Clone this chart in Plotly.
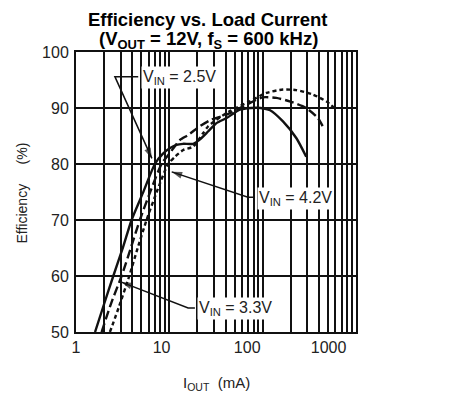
import numpy as np
import plotly.graph_objects as go

# ---- data (load current in mA, efficiency in %) ----
i_vin25 = [1.6, 2.0, 2.51, 3.2, 3.94, 5.2, 7.0, 8.5, 10.1, 11.9, 14, 18, 21, 26, 32, 41, 57, 75, 95, 120, 165, 230, 293]
eff_vin25 = [50, 55, 60, 65.2, 70, 74.8, 80, 81.8, 82.8, 83.4, 83.6, 83.6, 84.3, 85.8, 87.3, 88.2, 89.7, 90.0, 90.0, 89.6, 87.6, 84.6, 81.3]

i_vin33 = [1.88, 2.4, 3.08, 3.9, 4.83, 6.3, 8.25, 10.5, 13, 16, 21, 28, 41, 62, 100, 140, 194, 293, 391, 460]
eff_vin33 = [50, 55.3, 60, 65.2, 70, 75.2, 80, 82.3, 84.3, 85.2, 86.7, 87.9, 88.8, 90.3, 91.9, 91.8, 91.2, 90.0, 88.2, 86.1]

i_vin42 = [2.31, 2.9, 3.72, 4.6, 5.7, 7.4, 9.7, 11.5, 14.1, 18, 23, 26, 32, 45, 73, 110, 165, 229, 345, 479, 589]
eff_vin42 = [50, 54.6, 60, 65.1, 70, 75.2, 80, 81.3, 82.5, 83.1, 85.5, 86.7, 87.9, 89.5, 91.2, 92.7, 93.3, 93.2, 92.4, 91.2, 90.0]

x_tick_text = ["1", "10", "100", "1000"]
y_tick_vals = [50, 60, 70, 80, 90, 100]
y_tick_text = ["50", "60", "70", "80", "90", "100"]
series_labels = ["2.5V", "3.3V", "4.2V"]

# where the printed x labels sit along the drawn grid of the original chart
x_label_pos = [1, 8.25, 68.3, 508]
# drawn grid lines (1-2-...-9 per decade)
grid_x = [m * 10 ** d for d in range(3) for m in range(1, 10)] + [1000]

FONT = "Liberation Sans"
INK = "#111111"
PAGE_OFF = 8  # the page body adds an 8 px margin around the figure

fig = go.Figure()

curve_styles = [
    (i_vin25, eff_vin25, "solid"),
    (i_vin33, eff_vin33, "9px,4px"),
    (i_vin42, eff_vin42, "4px,3px"),
]
for xs, ys, dash in curve_styles:
    fig.add_trace(go.Scatter(
        x=xs, y=ys, mode="lines",
        line=dict(color=INK, width=2.4, dash=dash, shape="spline", smoothing=0.6),
        hoverinfo="skip", showlegend=False,
    ))

# leader lines: (tip on curve, elbow, end of horizontal stub, text anchor x, text y)
leaders = [
    ((6.5, 81.0), (2.61, 95.6), 4.64, 4.97, 95.4, series_labels[0]),
    ((3.07, 58.9), (15.9, 54.3), 18.8, 19.8, 54.2, series_labels[1]),
    ((10.6, 78.6), (69.6, 74.05), 82.6, 87.0, 73.9, series_labels[2]),
]
annotations = []
for tip, elbow, stub_x, text_x, text_y, lab in leaders:
    fig.add_trace(go.Scatter(
        x=[stub_x, elbow[0], tip[0]], y=[elbow[1], elbow[1], tip[1]],
        mode="lines+markers",
        line=dict(color=INK, width=1.5),
        marker=dict(symbol="arrow", size=[0, 0, 11], color=INK, angleref="previous",
                    line=dict(width=0)),
        hoverinfo="skip", showlegend=False,
    ))
    annotations.append(dict(
        x=np.log10(text_x), y=text_y, xref="x", yref="y",
        text="V<sub>IN</sub> = " + lab, showarrow=False,
        xanchor="left", yanchor="middle", bgcolor="white",
        font=dict(family=FONT, size=16, color="#222"),
    ))

H, T, B, L, R = 398, 52 - PAGE_OFF, 66 + PAGE_OFF, 76 - PAGE_OFF, 118 + PAGE_OFF
ph = H - T - B


def py(pix):
    """page pixel row (as seen in the reference) -> paper y"""
    return 1 + (T - (pix - PAGE_OFF)) / ph


def px(pix):
    return ((pix - PAGE_OFF) - L) / 280.0


# titles
annotations.append(dict(
    x=px(208), y=py(19.5), xref="paper", yref="paper", text="<b>Efficiency vs. Load Current</b>",
    showarrow=False, xanchor="center", yanchor="middle",
    font=dict(family=FONT, size=18.5, color="#000"),
))
annotations.append(dict(
    x=px(208), y=py(40), xref="paper", yref="paper",
    text="<b>(V<sub>OUT</sub> = 12V, f<sub>S</sub> = 600 kHz)</b>",
    showarrow=False, xanchor="center", yanchor="middle",
    font=dict(family=FONT, size=18.5, color="#000"),
))
# axis titles
annotations.append(dict(
    x=px(21.5), y=py(193), xref="paper", yref="paper",
    text="Efficiency&nbsp;&nbsp;&nbsp;&nbsp;&nbsp;(%)",
    textangle=-90, showarrow=False, xanchor="center", yanchor="middle",
    font=dict(family=FONT, size=14, color="#222"),
))
annotations.append(dict(
    x=px(216), y=py(383), xref="paper", yref="paper", text="I<sub>OUT</sub>&nbsp;&nbsp;(mA)",
    showarrow=False, xanchor="center", yanchor="middle",
    font=dict(family=FONT, size=15, color="#222"),
))

fig.update_layout(
    width=474, height=398,
    margin=dict(l=L, r=R, t=T, b=B),
    plot_bgcolor="white", paper_bgcolor="white",
    showlegend=False,
    annotations=annotations,
    xaxis=dict(
        type="log", range=[0, 3],
        tickmode="array", tickvals=x_label_pos, ticktext=x_tick_text,
        showgrid=False, ticks="", zeroline=False,
        showline=True, mirror=True, linecolor=INK, linewidth=2,
        tickfont=dict(family=FONT, size=16, color="#222"),
        minor=dict(tickmode="array", tickvals=grid_x, showgrid=True,
                   gridcolor=INK, gridwidth=1.5, ticks=""),
    ),
    yaxis=dict(
        range=[50, 100], tickmode="array", tickvals=y_tick_vals, ticktext=y_tick_text,
        showgrid=True, gridcolor=INK, gridwidth=1.8, ticks="", zeroline=False,
        showline=True, mirror=True, linecolor=INK, linewidth=2,
        ticklabelstandoff=2,
        tickfont=dict(family=FONT, size=16, color="#222"),
    ),
)

fig.write_html("out.html")
